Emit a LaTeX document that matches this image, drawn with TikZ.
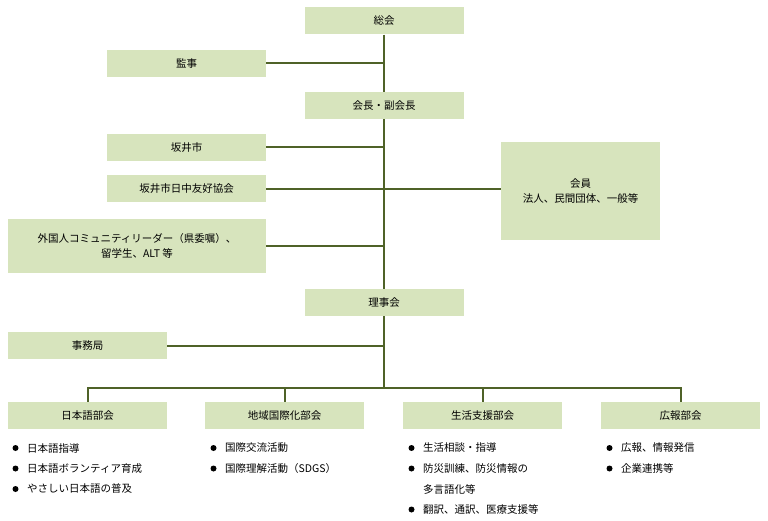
\documentclass[tikz,border=0pt]{standalone}
\usepackage{fontspec}
\setmainfont{Noto Sans CJK JP}
\usetikzlibrary{backgrounds}
\definecolor{boxfill}{HTML}{D7E4BD}
\definecolor{linecol}{HTML}{4F6228}
\tikzset{
  box/.style={fill=boxfill, draw=none, minimum height=27pt, minimum width=159pt, inner sep=0pt, font=\fontsize{10.5}{15}\selectfont, align=center},
  link/.style={draw=linecol, line width=2pt},
  item/.style={anchor=west, font=\fontsize{10.5}{13}\selectfont, inner sep=0pt}
}
\begin{document}
\begin{tikzpicture}[x=1pt,y=-1pt]
\useasboundingbox (0,0) rectangle (768,521);
% main column
\node[box] (gen) at (384,21) {総会};
\node[box] (aud) at (186.5,63.5) {監事};
\node[box] (pres) at (384,105.5) {会長・副会長};
\node[box] (city) at (186.5,147.5) {坂井市};
\node[box] (assoc) at (186.5,189) {坂井市日中友好協会};
\node[box, minimum width=258pt, minimum height=54pt] (lead) at (137,246) {外国人コミュニティリーダー（県委嘱）、\\留学生、ALT 等};
\node[box, minimum height=98pt] (memb) at (580.5,191) {会員\\法人、民間団体、一般等};
\node[box] (board) at (384,302.5) {理事会};
\node[box] (off) at (87.5,345.5) {事務局};
% departments
\node[box] (jp) at (87.5,415.5) {日本語部会};
\node[box] (intl) at (284.5,415.5) {地域国際化部会};
\node[box] (life) at (482.5,415.5) {生活支援部会};
\node[box] (pr) at (680.5,415.5) {広報部会};
\coordinate (bar) at (384,388);
% connectors
\begin{scope}[on background layer]
\draw[link] (gen.south) -- (bar);
\draw[link] (aud.east) -- (aud.east -| gen);
\draw[link] (city.east) -- (city.east -| gen);
\draw[link] (assoc.east) -- (memb.west |- assoc.east);
\draw[link] (lead.east) -- (lead.east -| gen);
\draw[link] (off.east) -- (off.east -| gen);
\draw[link] (jp.north) |- (bar) -| (pr.north);
\draw[link] (intl.north) -- (intl.north |- bar);
\draw[link] (life.north) -- (life.north |- bar);
\end{scope}
% bullet lists
\foreach \dx/\lst in {12/{日本語指導,日本語ボランティア育成,やさしい日本語の普及},
                      210/{国際交流活動,国際理解活動（SDGS）},
                      606/{広報、情報発信,企業連携等}}{
  \foreach \t [count=\i] in \lst {
    \fill (\dx+3.5,427.5+20.5*\i) circle (3pt);
    \node[item] at (\dx+15,427.5+20.5*\i) {\t};
  }
}
\foreach \t/\yy/\b in {生活相談・指導/448/1,防災訓練、防災情報の/468.5/1,多言語化等/489/0,翻訳、通訳、医療支援等/509.5/1}{
  \ifnum\b=1 \fill (411.5,\yy) circle (3pt);\fi
  \node[item] at (423,\yy) {\t};
}
\end{tikzpicture}
\end{document}
